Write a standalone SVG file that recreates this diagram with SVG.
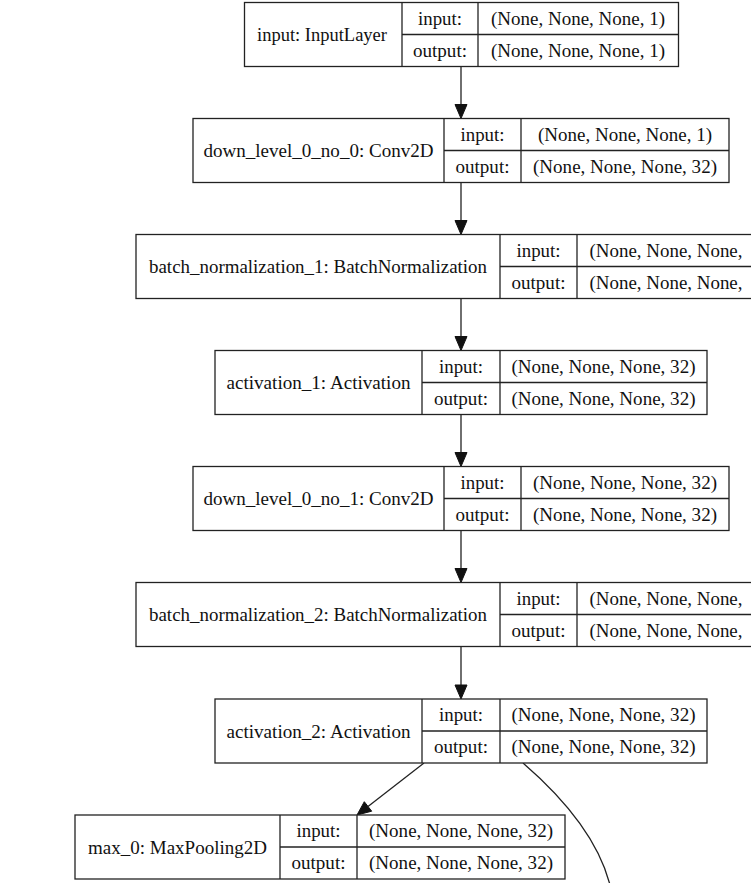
<svg xmlns="http://www.w3.org/2000/svg" width="751" height="883" viewBox="0 0 751 883">
<style>
.box{fill:#fff;stroke:#222;stroke-width:1.3}
.ln{fill:none;stroke:#222;stroke-width:1.3}
.t{font-family:"Liberation Serif","Times New Roman",serif;font-size:18px;fill:#111;text-anchor:middle}
.s{text-anchor:start}
.ah{fill:#111;stroke:#111;stroke-width:1}
</style>
<rect width="751" height="883" fill="#fff"/>

<g id="connectors">
  <line class="ln" x1="461" y1="66.5" x2="461" y2="104.5"/><polygon class="ah" points="461,118.5 455,104.5 467,104.5"/>
  <line class="ln" x1="461" y1="182.5" x2="461" y2="220.5"/><polygon class="ah" points="461,234.5 455,220.5 467,220.5"/>
  <line class="ln" x1="461" y1="298.5" x2="461" y2="336.5"/><polygon class="ah" points="461,350.5 455,336.5 467,336.5"/>
  <line class="ln" x1="461" y1="414.5" x2="461" y2="452.5"/><polygon class="ah" points="461,466.5 455,452.5 467,452.5"/>
  <line class="ln" x1="461" y1="530.5" x2="461" y2="568.5"/><polygon class="ah" points="461,582.5 455,568.5 467,568.5"/>
  <line class="ln" x1="461" y1="646.5" x2="461" y2="685"/><polygon class="ah" points="461,699 455,685 467,685"/>
  <line class="ln" x1="424" y1="763" x2="368" y2="806.4"/><polygon class="ah" points="357,815 371.7,811.2 364.3,801.7"/>
  <path class="ln" d="M523,763 C560,795 598,838 610,885"/>
</g>

<g id="input">
  <rect class="box" x="244.5" y="2.5" width="434" height="64"/>
  <line class="ln" x1="402" y1="2.5" x2="402" y2="66.5"/>
  <line class="ln" x1="478" y1="2.5" x2="478" y2="66.5"/>
  <line class="ln" x1="402" y1="34.5" x2="678.5" y2="34.5"/>
  <text class="t" x="322" y="41" textLength="130" lengthAdjust="spacingAndGlyphs">input: InputLayer</text>
  <text class="t" x="440" y="24.5" textLength="44" lengthAdjust="spacingAndGlyphs">input:</text>
  <text class="t" x="440" y="56.5" textLength="54" lengthAdjust="spacingAndGlyphs">output:</text>
  <text class="t" x="578" y="24.5" textLength="174" lengthAdjust="spacingAndGlyphs">(None, None, None, 1)</text>
  <text class="t" x="578" y="56.5" textLength="174" lengthAdjust="spacingAndGlyphs">(None, None, None, 1)</text>
</g>

<g id="down_level_0_no_0">
  <rect class="box" x="193" y="118.5" width="536" height="64"/>
  <line class="ln" x1="444" y1="118.5" x2="444" y2="182.5"/>
  <line class="ln" x1="521" y1="118.5" x2="521" y2="182.5"/>
  <line class="ln" x1="444" y1="150.5" x2="729" y2="150.5"/>
  <text class="t" x="318.5" y="157" textLength="230" lengthAdjust="spacingAndGlyphs">down_level_0_no_0: Conv2D</text>
  <text class="t" x="482.5" y="140.5" textLength="44" lengthAdjust="spacingAndGlyphs">input:</text>
  <text class="t" x="482.5" y="172.5" textLength="54" lengthAdjust="spacingAndGlyphs">output:</text>
  <text class="t" x="625" y="140.5" textLength="174" lengthAdjust="spacingAndGlyphs">(None, None, None, 1)</text>
  <text class="t" x="625" y="172.5" textLength="184" lengthAdjust="spacingAndGlyphs">(None, None, None, 32)</text>
</g>

<g id="batch_normalization_1">
  <rect class="box" x="136" y="234.5" width="660" height="64"/>
  <line class="ln" x1="500" y1="234.5" x2="500" y2="298.5"/>
  <line class="ln" x1="577" y1="234.5" x2="577" y2="298.5"/>
  <line class="ln" x1="500" y1="266.5" x2="796" y2="266.5"/>
  <text class="t" x="318" y="273" textLength="338" lengthAdjust="spacingAndGlyphs">batch_normalization_1: BatchNormalization</text>
  <text class="t" x="538.5" y="256.5" textLength="44" lengthAdjust="spacingAndGlyphs">input:</text>
  <text class="t" x="538.5" y="288.5" textLength="54" lengthAdjust="spacingAndGlyphs">output:</text>
  <text class="t s" x="589.5" y="256.5" textLength="153" lengthAdjust="spacingAndGlyphs">(None, None, None,</text>
  <text class="t s" x="589.5" y="288.5" textLength="153" lengthAdjust="spacingAndGlyphs">(None, None, None,</text>
</g>

<g id="activation_1">
  <rect class="box" x="215" y="350.5" width="492" height="64"/>
  <line class="ln" x1="422" y1="350.5" x2="422" y2="414.5"/>
  <line class="ln" x1="500" y1="350.5" x2="500" y2="414.5"/>
  <line class="ln" x1="422" y1="382.5" x2="707" y2="382.5"/>
  <text class="t" x="318.5" y="389" textLength="184" lengthAdjust="spacingAndGlyphs">activation_1: Activation</text>
  <text class="t" x="461" y="372.5" textLength="44" lengthAdjust="spacingAndGlyphs">input:</text>
  <text class="t" x="461" y="404.5" textLength="54" lengthAdjust="spacingAndGlyphs">output:</text>
  <text class="t" x="603.5" y="372.5" textLength="184" lengthAdjust="spacingAndGlyphs">(None, None, None, 32)</text>
  <text class="t" x="603.5" y="404.5" textLength="184" lengthAdjust="spacingAndGlyphs">(None, None, None, 32)</text>
</g>

<g id="down_level_0_no_1">
  <rect class="box" x="193" y="466.5" width="536" height="64"/>
  <line class="ln" x1="444" y1="466.5" x2="444" y2="530.5"/>
  <line class="ln" x1="521" y1="466.5" x2="521" y2="530.5"/>
  <line class="ln" x1="444" y1="498.5" x2="729" y2="498.5"/>
  <text class="t" x="318.5" y="505" textLength="230" lengthAdjust="spacingAndGlyphs">down_level_0_no_1: Conv2D</text>
  <text class="t" x="482.5" y="488.5" textLength="44" lengthAdjust="spacingAndGlyphs">input:</text>
  <text class="t" x="482.5" y="520.5" textLength="54" lengthAdjust="spacingAndGlyphs">output:</text>
  <text class="t" x="625" y="488.5" textLength="184" lengthAdjust="spacingAndGlyphs">(None, None, None, 32)</text>
  <text class="t" x="625" y="520.5" textLength="184" lengthAdjust="spacingAndGlyphs">(None, None, None, 32)</text>
</g>

<g id="batch_normalization_2">
  <rect class="box" x="136" y="582.5" width="660" height="64"/>
  <line class="ln" x1="500" y1="582.5" x2="500" y2="646.5"/>
  <line class="ln" x1="577" y1="582.5" x2="577" y2="646.5"/>
  <line class="ln" x1="500" y1="614.5" x2="796" y2="614.5"/>
  <text class="t" x="318" y="621" textLength="338" lengthAdjust="spacingAndGlyphs">batch_normalization_2: BatchNormalization</text>
  <text class="t" x="538.5" y="604.5" textLength="44" lengthAdjust="spacingAndGlyphs">input:</text>
  <text class="t" x="538.5" y="636.5" textLength="54" lengthAdjust="spacingAndGlyphs">output:</text>
  <text class="t s" x="589.5" y="604.5" textLength="153" lengthAdjust="spacingAndGlyphs">(None, None, None,</text>
  <text class="t s" x="589.5" y="636.5" textLength="153" lengthAdjust="spacingAndGlyphs">(None, None, None,</text>
</g>

<g id="activation_2">
  <rect class="box" x="215" y="699" width="492" height="64"/>
  <line class="ln" x1="422" y1="699" x2="422" y2="763"/>
  <line class="ln" x1="500" y1="699" x2="500" y2="763"/>
  <line class="ln" x1="422" y1="731" x2="707" y2="731"/>
  <text class="t" x="318.5" y="737.5" textLength="184" lengthAdjust="spacingAndGlyphs">activation_2: Activation</text>
  <text class="t" x="461" y="721" textLength="44" lengthAdjust="spacingAndGlyphs">input:</text>
  <text class="t" x="461" y="753" textLength="54" lengthAdjust="spacingAndGlyphs">output:</text>
  <text class="t" x="603.5" y="721" textLength="184" lengthAdjust="spacingAndGlyphs">(None, None, None, 32)</text>
  <text class="t" x="603.5" y="753" textLength="184" lengthAdjust="spacingAndGlyphs">(None, None, None, 32)</text>
</g>

<g id="max_0">
  <rect class="box" x="75" y="815" width="490" height="64"/>
  <line class="ln" x1="280" y1="815" x2="280" y2="879"/>
  <line class="ln" x1="357" y1="815" x2="357" y2="879"/>
  <line class="ln" x1="280" y1="847" x2="565" y2="847"/>
  <text class="t" x="177.5" y="853.5" textLength="179" lengthAdjust="spacingAndGlyphs">max_0: MaxPooling2D</text>
  <text class="t" x="318.5" y="837" textLength="44" lengthAdjust="spacingAndGlyphs">input:</text>
  <text class="t" x="318.5" y="869" textLength="54" lengthAdjust="spacingAndGlyphs">output:</text>
  <text class="t" x="461" y="837" textLength="184" lengthAdjust="spacingAndGlyphs">(None, None, None, 32)</text>
  <text class="t" x="461" y="869" textLength="184" lengthAdjust="spacingAndGlyphs">(None, None, None, 32)</text>
</g>
</svg>
